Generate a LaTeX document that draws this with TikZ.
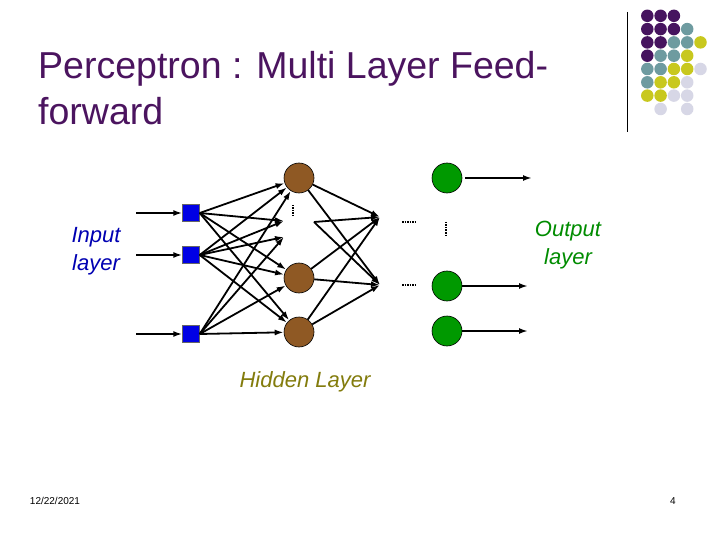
\documentclass[tikz,border=0pt]{standalone}
\usepackage{fontspec}
\setmainfont{Liberation Sans}
\begin{document}
\begin{tikzpicture}[x=1pt,y=-1pt,
 inp/.style={draw=black!60,fill=blue!90!black,minimum size=17pt,inner sep=0pt,line width=0.4pt},
 hid/.style={circle,draw=black,fill=brown!80!orange!70!black,minimum size=30pt,inner sep=0pt,line width=0.6pt},
 outn/.style={circle,draw=black,fill=green!60!black,minimum size=30pt,inner sep=0pt,line width=0.6pt},
 ed/.style={-{Latex[length=9pt,width=6pt]},line width=1.8pt},
 dot/.style={circle,minimum size=12.5pt,inner sep=0pt},
 dts/.style={line width=2.2pt,dash pattern=on 1.5pt off 1pt}]
\usetikzlibrary{arrows.meta}
\useasboundingbox (0,0) rectangle (720,540);
\fill[white] (0,0) rectangle (720,540);
\definecolor{tc}{RGB}{75,20,95}
% title
\node[anchor=base west,inner sep=0pt,font=\fontsize{37.5}{40}\selectfont,text=tc] (t1) at (38,79) {Perceptron : Multi Layer Feed-};
\node[anchor=base west,inner sep=0pt,font=\fontsize{37.5}{40}\selectfont,text=tc] (t2) at (38,125) {forward};
\draw[line width=0.8pt] (627,12) -- (627,132);
% dots
\definecolor{P}{RGB}{70,20,95}
\definecolor{T}{RGB}{110,155,160}
\definecolor{Y}{RGB}{200,200,30}
\definecolor{L}{RGB}{215,215,230}
\foreach \r/\row in {1/{P,P,P},2/{P,P,P,T},3/{P,P,T,T,Y},4/{P,T,T,Y},5/{T,T,Y,Y,L},6/{T,Y,Y,L},7/{Y,Y,L,L}}{
  \foreach \c [count=\i] in \row { \node[dot,fill=\c] (d\r\i) at (634+13.3*\i,2.5+13.3*\r) {}; } }
\node[dot,fill=L] (d82) at (660.6,109) {};
\node[dot,fill=L] (d84) at (687.2,109) {};
% network
\node[inp] (i1) at (191,213) {};
\node[inp] (i2) at (191,255) {};
\node[inp] (i3) at (191,334) {};
\coordinate (s1) at (136,213);\coordinate (s2) at (136,255);\coordinate (s3) at (136,334);
\foreach \k in {1,2,3}{\draw[ed] (s\k) -- (i\k.west);}
\node[hid] (h1) at (299,178) {};
\node[hid] (h2) at (299,278) {};
\node[hid] (h3) at (299,332) {};
\coordinate (m1) at (284,221); \coordinate (m2) at (284,237); \coordinate (m0) at (314,222);
\draw[dts] (293,205) -- (293,216);
\foreach \a in {1,2,3}{\foreach \b in {h1,h2,h3}{\draw[ed] (i\a.east) -- (\b);}}
\draw[ed] (i1.east) -- (m1); \draw[ed] (i2.east) -- (m1);
\draw[ed] (i2.east) -- (m2); \draw[ed] (i3.east) -- (m2);
\coordinate (r1) at (380,217); \coordinate (r2) at (380,285);
\foreach \b in {h1,h2,h3}{\draw[ed] (\b) -- (r1); \draw[ed] (\b) -- (r2);}
\draw[ed] (m0) -- (r1); \draw[ed] (m0) -- (r2);
\draw[dts] (402,222) -- (415,222);
\draw[dts] (402,285) -- (415,285);
\draw[dts] (446,222) -- (446,236);
\node[outn] (o1) at (447,178) {};
\node[outn] (o2) at (447,286) {};
\node[outn] (o3) at (447,331) {};
\coordinate (e1) at (532,178);\coordinate (e2) at (528,286);\coordinate (e3) at (528,331);
\draw[ed] (o1.east)++(3,0) -- (e1);
\foreach \k in {2,3}{\draw[ed] (o\k.east) -- (e\k);}
% labels
\node[align=center,font=\itshape\fontsize{22}{28}\selectfont,text=blue!70!black] (il) at (96,251) {Input\\layer};
\node[align=center,font=\itshape\fontsize{22}{28}\selectfont,text=green!55!black] (ol) at (568,245) {Output\\layer};
\node[font=\itshape\fontsize{22}{25}\selectfont,text=olive!90!black] (hl) at (305,382) {Hidden Layer};
\node[font=\fontsize{10}{12}\selectfont] (dt) at (55,501) {12/22/2021};
\node[font=\fontsize{10}{12}\selectfont] (pg) at (673,501) {4};
\end{tikzpicture}
\end{document}
